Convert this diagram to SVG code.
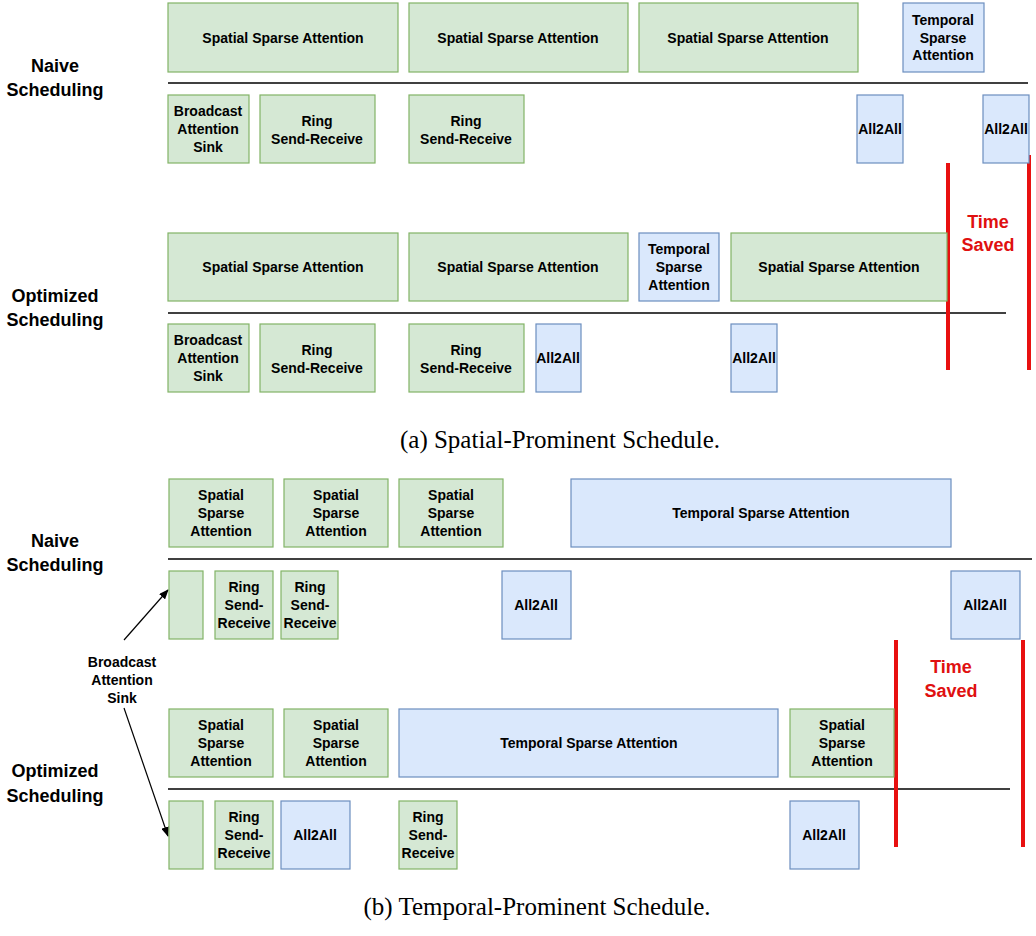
<svg xmlns="http://www.w3.org/2000/svg" width="1036" height="936" viewBox="0 0 1036 936">
<style>
.g{fill:#d5e8d4;stroke:#82b366;stroke-width:1.2}
.b{fill:#dae8fc;stroke:#6c8ebf;stroke-width:1.2}
.t{font-family:"Liberation Sans",Arial,sans-serif;font-weight:bold;font-size:14px;text-anchor:middle;fill:#000}
.l{font-family:"Liberation Sans",Arial,sans-serif;font-weight:bold;font-size:18px;text-anchor:middle;fill:#000}
.r{font-family:"Liberation Sans",Arial,sans-serif;font-weight:bold;font-size:18px;text-anchor:middle;fill:#e01010}
.c{font-family:"Liberation Serif","Times New Roman",serif;font-size:25px;text-anchor:middle;fill:#000}
.ln{stroke:#000;stroke-width:1.5}
.red{stroke:#e81010;stroke-width:4}
</style>
<defs><marker id="ah" markerWidth="10" markerHeight="8" refX="9" refY="4" orient="auto" markerUnits="userSpaceOnUse"><path d="M0,0 L10,4 L0,8 z" fill="#000"/></marker></defs>
<rect width="1036" height="936" fill="#fff"/>
<g id="a-labels">
<text class="l" x="55" y="72">Naive</text>
<text class="l" x="55" y="96">Scheduling</text>
<text class="l" x="55" y="302">Optimized</text>
<text class="l" x="55" y="326">Scheduling</text>
<text class="r" x="988" y="228">Time</text><text class="r" x="988" y="251">Saved</text>
<text class="c" x="560" y="448">(a) Spatial-Prominent Schedule.</text>
</g>
<g id="connectors">
<line class="ln" x1="168" y1="83" x2="1028" y2="83"/>
<line class="ln" x1="168" y1="313" x2="1006" y2="313"/>
<line class="red" x1="948" y1="163" x2="948" y2="370"/>
<line class="red" x1="1029" y1="155" x2="1029" y2="370"/>
<line class="ln" x1="168" y1="559" x2="1032" y2="559"/>
<line class="ln" x1="168" y1="789" x2="1010" y2="789"/>
<line class="red" x1="896" y1="640" x2="896" y2="847"/>
<line class="red" x1="1023" y1="640" x2="1023" y2="847"/>
<line x1="124" y1="640" x2="168" y2="590" stroke="#000" stroke-width="1.2" marker-end="url(#ah)"/>
<line x1="124" y1="708" x2="168" y2="836" stroke="#000" stroke-width="1.2" marker-end="url(#ah)"/>
</g>
<g id="a-naive">
<g id="a1"><rect class="g" x="168" y="3" width="230" height="69"/><text class="t" x="283" y="43">Spatial Sparse Attention</text></g>
<g id="a2"><rect class="g" x="409" y="3" width="219" height="69"/><text class="t" x="518" y="43">Spatial Sparse Attention</text></g>
<g id="a3"><rect class="g" x="639" y="3" width="219" height="69"/><text class="t" x="748" y="43">Spatial Sparse Attention</text></g>
<g id="a4"><rect class="b" x="903" y="3" width="81" height="69"/><text class="t" x="943" y="25">Temporal</text><text class="t" x="943" y="43">Sparse</text><text class="t" x="943" y="60">Attention</text></g>
<g id="a5"><rect class="g" x="168" y="95" width="81" height="68"/><text class="t" x="208" y="116">Broadcast</text><text class="t" x="208" y="134">Attention</text><text class="t" x="208" y="152">Sink</text></g>
<g id="a6"><rect class="g" x="260" y="95" width="115" height="68"/><text class="t" x="317" y="126">Ring</text><text class="t" x="317" y="144">Send-Receive</text></g>
<g id="a7"><rect class="g" x="409" y="95" width="115" height="68"/><text class="t" x="466" y="126">Ring</text><text class="t" x="466" y="144">Send-Receive</text></g>
<g id="a8"><rect class="b" x="857" y="95" width="46" height="68"/><text class="t" x="880" y="134">All2All</text></g>
<g id="a9"><rect class="b" x="983" y="95" width="46" height="68"/><text class="t" x="1006" y="134">All2All</text></g>
</g>
<g id="a-opt">
<g id="a10"><rect class="g" x="168" y="233" width="230" height="68"/><text class="t" x="283" y="272">Spatial Sparse Attention</text></g>
<g id="a11"><rect class="g" x="409" y="233" width="219" height="68"/><text class="t" x="518" y="272">Spatial Sparse Attention</text></g>
<g id="a12"><rect class="b" x="639" y="233" width="80" height="68"/><text class="t" x="679" y="254">Temporal</text><text class="t" x="679" y="272">Sparse</text><text class="t" x="679" y="290">Attention</text></g>
<g id="a13"><rect class="g" x="731" y="233" width="216" height="68"/><text class="t" x="839" y="272">Spatial Sparse Attention</text></g>
<g id="a14"><rect class="g" x="168" y="324" width="81" height="68"/><text class="t" x="208" y="345">Broadcast</text><text class="t" x="208" y="363">Attention</text><text class="t" x="208" y="381">Sink</text></g>
<g id="a15"><rect class="g" x="260" y="324" width="115" height="68"/><text class="t" x="317" y="355">Ring</text><text class="t" x="317" y="373">Send-Receive</text></g>
<g id="a16"><rect class="g" x="409" y="324" width="115" height="68"/><text class="t" x="466" y="355">Ring</text><text class="t" x="466" y="373">Send-Receive</text></g>
<g id="a17"><rect class="b" x="536" y="324" width="45" height="68"/><text class="t" x="558" y="363">All2All</text></g>
<g id="a18"><rect class="b" x="731" y="324" width="46" height="68"/><text class="t" x="754" y="363">All2All</text></g>
</g>
<g id="b-labels">
<text class="l" x="55" y="547">Naive</text><text class="l" x="55" y="571">Scheduling</text>
<text class="l" x="55" y="777">Optimized</text><text class="l" x="55" y="802">Scheduling</text>
<text class="t" x="122" y="667">Broadcast</text><text class="t" x="122" y="685">Attention</text><text class="t" x="122" y="703">Sink</text>
<text class="r" x="951" y="673">Time</text><text class="r" x="951" y="697">Saved</text>
<text class="c" x="537" y="915">(b) Temporal-Prominent Schedule.</text>
</g>
<g id="b-naive">
<g id="b1"><rect class="g" x="169" y="479" width="104" height="68"/><text class="t" x="221" y="500">Spatial</text><text class="t" x="221" y="518">Sparse</text><text class="t" x="221" y="536">Attention</text></g>
<g id="b2"><rect class="g" x="284" y="479" width="104" height="68"/><text class="t" x="336" y="500">Spatial</text><text class="t" x="336" y="518">Sparse</text><text class="t" x="336" y="536">Attention</text></g>
<g id="b3"><rect class="g" x="399" y="479" width="104" height="68"/><text class="t" x="451" y="500">Spatial</text><text class="t" x="451" y="518">Sparse</text><text class="t" x="451" y="536">Attention</text></g>
<g id="b4"><rect class="b" x="571" y="479" width="380" height="68"/><text class="t" x="761" y="518">Temporal Sparse Attention</text></g>
<g id="b5"><rect class="g" x="169" y="571" width="34" height="68"/></g>
<g id="b6"><rect class="g" x="215" y="571" width="58" height="68"/><text class="t" x="244" y="592">Ring</text><text class="t" x="244" y="610">Send-</text><text class="t" x="244" y="628">Receive</text></g>
<g id="b7"><rect class="g" x="281" y="571" width="57" height="68"/><text class="t" x="310" y="592">Ring</text><text class="t" x="310" y="610">Send-</text><text class="t" x="310" y="628">Receive</text></g>
<g id="b8"><rect class="b" x="502" y="571" width="69" height="68"/><text class="t" x="536" y="610">All2All</text></g>
<g id="b9"><rect class="b" x="951" y="571" width="69" height="68"/><text class="t" x="985" y="610">All2All</text></g>
</g>
<g id="b-opt">
<g id="b10"><rect class="g" x="169" y="709" width="104" height="68"/><text class="t" x="221" y="730">Spatial</text><text class="t" x="221" y="748">Sparse</text><text class="t" x="221" y="766">Attention</text></g>
<g id="b11"><rect class="g" x="284" y="709" width="104" height="68"/><text class="t" x="336" y="730">Spatial</text><text class="t" x="336" y="748">Sparse</text><text class="t" x="336" y="766">Attention</text></g>
<g id="b12"><rect class="b" x="399" y="709" width="379" height="68"/><text class="t" x="589" y="748">Temporal Sparse Attention</text></g>
<g id="b13"><rect class="g" x="790" y="709" width="104" height="68"/><text class="t" x="842" y="730">Spatial</text><text class="t" x="842" y="748">Sparse</text><text class="t" x="842" y="766">Attention</text></g>
<g id="b14"><rect class="g" x="169" y="801" width="34" height="68"/></g>
<g id="b15"><rect class="g" x="215" y="801" width="58" height="68"/><text class="t" x="244" y="822">Ring</text><text class="t" x="244" y="840">Send-</text><text class="t" x="244" y="858">Receive</text></g>
<g id="b16"><rect class="b" x="281" y="801" width="69" height="68"/><text class="t" x="315" y="840">All2All</text></g>
<g id="b17"><rect class="g" x="399" y="801" width="58" height="68"/><text class="t" x="428" y="822">Ring</text><text class="t" x="428" y="840">Send-</text><text class="t" x="428" y="858">Receive</text></g>
<g id="b18"><rect class="b" x="790" y="801" width="69" height="68"/><text class="t" x="824" y="840">All2All</text></g>
</g>
</svg>
